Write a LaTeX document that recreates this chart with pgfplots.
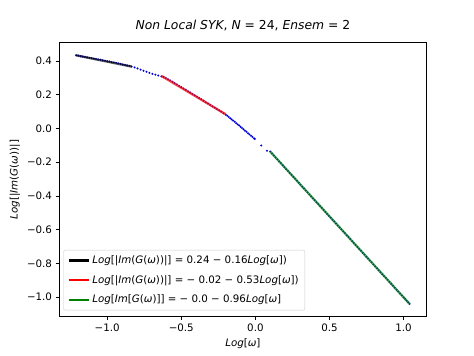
\documentclass[border=0pt]{standalone}
\usepackage{fontspec}
\setmainfont{DejaVu Sans}
\usepackage{pgfplots}
\pgfplotsset{compat=1.18}
\definecolor{mplgreen}{HTML}{008000}
\definecolor{legframe}{HTML}{CCCCCC}
\definecolor{dotblue}{HTML}{0000D8}
\pgfplotsset{common/.style={
  at={(0,0)}, anchor=south west,
  scale only axis, width=357.1pt, height=266.1pt,
  xmin=-1.3235, xmax=1.155, ymin=-1.1145, ymax=0.5088}}
\begin{document}
\begin{tikzpicture}
\begin{axis}[common, hide axis]
\addplot[only marks, mark=*, mark size=1.1pt, color=dotblue, draw opacity=0] coordinates {
(-1.210,0.434) (-1.195,0.432) (-1.180,0.429) (-1.165,0.427) (-1.150,0.424) (-1.135,0.422)
(-1.120,0.419) (-1.105,0.417) (-1.090,0.414) (-1.075,0.412) (-1.060,0.409) (-1.045,0.407)
(-1.030,0.404) (-1.015,0.402) (-1.000,0.399) (-0.985,0.397) (-0.970,0.394) (-0.955,0.392)
(-0.940,0.389) (-0.925,0.386) (-0.910,0.383) (-0.895,0.380) (-0.880,0.377) (-0.865,0.374)
(-0.850,0.371) (-0.835,0.367) (-0.815,0.362) (-0.795,0.356) (-0.775,0.349) (-0.755,0.342)
(-0.735,0.336) (-0.715,0.330) (-0.695,0.324) (-0.675,0.319) (-0.655,0.314)
(-0.635,0.309) (-0.620,0.306) (-0.605,0.300) (-0.590,0.292) (-0.575,0.285) (-0.560,0.277)
(-0.545,0.269) (-0.530,0.261) (-0.515,0.253) (-0.500,0.245) (-0.485,0.237) (-0.470,0.229)
(-0.455,0.221) (-0.440,0.213) (-0.425,0.205) (-0.410,0.197) (-0.395,0.189) (-0.380,0.181)
(-0.365,0.173) (-0.350,0.165) (-0.335,0.156) (-0.320,0.148) (-0.305,0.140) (-0.290,0.131)
(-0.275,0.123) (-0.260,0.115) (-0.245,0.107) (-0.230,0.099) (-0.215,0.090) (-0.200,0.082)
(-0.190,0.075) (-0.180,0.068) (-0.170,0.061) (-0.160,0.054) (-0.150,0.047) (-0.140,0.040)
(-0.130,0.032) (-0.120,0.025) (-0.110,0.018) (-0.100,0.010) (-0.090,0.003) (-0.080,-0.005)
(-0.070,-0.013) (-0.060,-0.020) (-0.050,-0.028) (-0.040,-0.035) (-0.030,-0.043) (-0.020,-0.050)
(-0.010,-0.058) (-0.004,-0.062)
(0.040,-0.101) (0.078,-0.132)
(0.100,-0.137) (0.112,-0.149) (0.124,-0.160) (0.136,-0.172) (0.148,-0.183) (0.160,-0.195)
(0.172,-0.206) (0.184,-0.218) (0.196,-0.229) (0.208,-0.241) (0.220,-0.252) (0.232,-0.264)
(0.244,-0.275) (0.256,-0.287) (0.268,-0.298) (0.280,-0.310) (0.292,-0.322) (0.304,-0.333)
(0.316,-0.345) (0.328,-0.356) (0.340,-0.368) (0.352,-0.379) (0.364,-0.391) (0.376,-0.402)
(0.388,-0.414) (0.400,-0.425) (0.412,-0.437) (0.424,-0.448) (0.436,-0.460) (0.448,-0.471)
(0.460,-0.483) (0.472,-0.495) (0.484,-0.506) (0.496,-0.518) (0.508,-0.529) (0.520,-0.541)
(0.532,-0.552) (0.544,-0.564) (0.556,-0.575) (0.568,-0.587) (0.580,-0.598) (0.592,-0.610)
(0.604,-0.621) (0.616,-0.633) (0.628,-0.644) (0.640,-0.656) (0.652,-0.668) (0.664,-0.679)
(0.676,-0.691) (0.688,-0.702) (0.700,-0.714) (0.712,-0.725) (0.724,-0.737) (0.736,-0.748)
(0.748,-0.760) (0.760,-0.771) (0.772,-0.783) (0.784,-0.794) (0.796,-0.806) (0.808,-0.818)
(0.820,-0.829) (0.832,-0.841) (0.844,-0.852) (0.856,-0.864) (0.868,-0.875) (0.880,-0.886)
(0.892,-0.898) (0.904,-0.910) (0.916,-0.921) (0.928,-0.933) (0.940,-0.944) (0.952,-0.956)
(0.964,-0.967) (0.976,-0.979) (0.988,-0.990) (1.000,-1.002) (1.010,-1.011) (1.020,-1.021)
(1.030,-1.030) (1.040,-1.040)
};
\end{axis}
\begin{axis}[
  common,
  axis line style={line width=0.8pt, black},
  tick align=outside, major tick length=3.5pt,
  tick style={line width=0.8pt, black},
  xtick pos=bottom, ytick pos=left,
  xtick={-1,-0.5,0,0.5,1},
  xticklabels={−1.0,−0.5,0.0,0.5,1.0},
  ytick={-1,-0.8,-0.6,-0.4,-0.2,0,0.2,0.4},
  yticklabels={−1.0,−0.8,−0.6,−0.4,−0.2,0.0,0.2,0.4},
  ticklabel style={font=\fontsize{10}{12}\selectfont},
  title={\textit{Non Local SYK}, \textit{N} = 24, \textit{Ensem} = 2},
  title style={font=\fontsize{12}{14}\selectfont, at={(0.5,1.040)}, anchor=center, inner sep=0pt},
  xlabel={\textit{Log}[\textit{ω}]},
  xlabel style={font=\fontsize{10}{12}\selectfont, at={(0.5,-0.0988)}, anchor=center, inner sep=0pt},
  ylabel={\textit{Log}[|\textit{Im}(\textit{G}(\textit{ω}))|]},
  ylabel style={font=\fontsize{10}{12}\selectfont, at={(-0.1204,0.5)}, anchor=center, inner sep=0pt},
  legend style={at={(0.011,0.022)}, anchor=south west, draw=legframe, rounded corners=2pt,
    fill=white, fill opacity=0.8, text opacity=1, font=\fontsize{10}{12}\selectfont,
    inner xsep=4pt, inner ysep=3.5pt, row sep=6pt},
  legend cell align=left,
  legend image code/.code={\draw[#1, line width=2pt, opacity=1] (0pt,0pt) -- (20pt,0pt);},
]
\addplot[black, line width=2.2pt, opacity=0.65] coordinates {(-1.210,0.434) (-0.835,0.367)};
\addlegendentry{\textit{Log}[|\textit{Im}(\textit{G}(\textit{ω}))|] = 0.24 − 0.16\textit{Log}[\textit{ω}])}
\addplot[red, line width=2.2pt, opacity=0.7] coordinates {(-0.635,0.312) (-0.200,0.084)};
\addlegendentry{\textit{Log}[|\textit{Im}(\textit{G}(\textit{ω}))|] = − 0.02 − 0.53\textit{Log}[\textit{ω}])}
\addplot[mplgreen, line width=2.2pt, opacity=0.65] coordinates {(0.100,-0.137) (1.040,-1.040)};
\addlegendentry{\textit{Log}[\textit{Im}[\textit{G}(\textit{ω})]] = − 0.0 − 0.96\textit{Log}[\textit{ω}]}
\end{axis}
\pgfresetboundingbox
\path (-57.6pt,-38.0pt) rectangle (403.2pt,307.6pt);
\end{tikzpicture}
\end{document}
